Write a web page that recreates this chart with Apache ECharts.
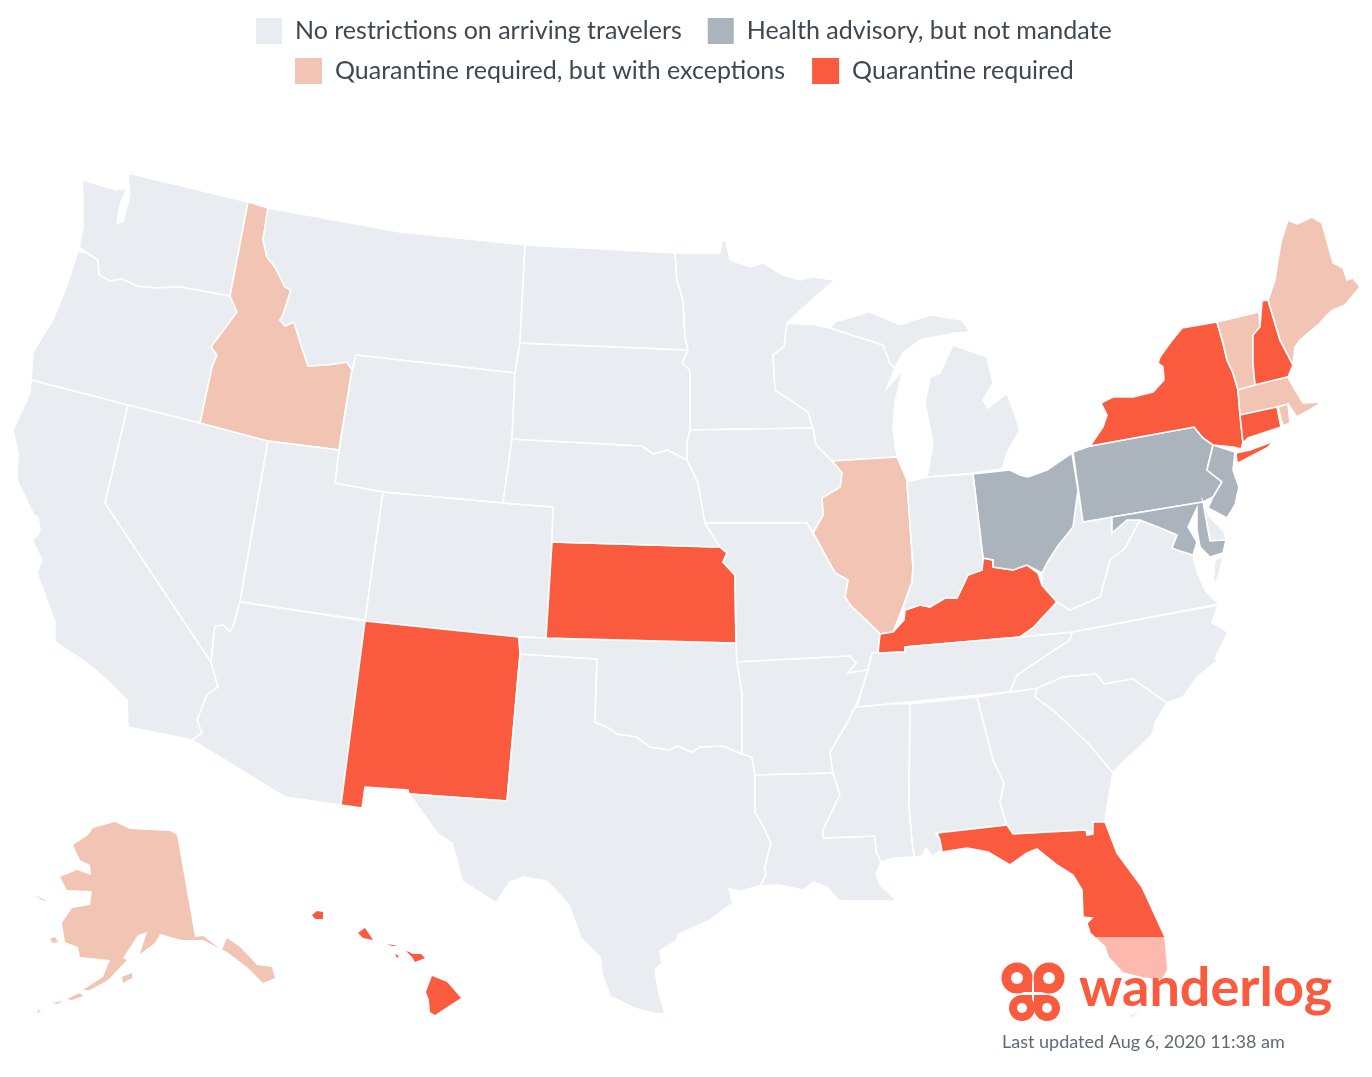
<!DOCTYPE html>
<html>
<head>
<meta charset="utf-8">
<title>Wanderlog travel restrictions</title>
<script src="https://cdn.jsdelivr.net/npm/echarts@6/dist/echarts.min.js"></script>
<style>
  html, body { margin: 0; padding: 0; background: #fff; }
  #main { width: 1372px; height: 1077px; }
</style>
</head>
<body>
<div id="main"></div>
<script>
// categories and who is in them
const categories = [
  "No restrictions on arriving travelers",
  "Health advisory, but not mandate",
  "Quarantine required, but with exceptions",
  "Quarantine required"
];
const categoryColors = ["#e9ecf0", "#abb4bc", "#f2c4b3", "#fa5a3e"];
const noRestrictions = ["Washington", "Oregon", "California", "Nevada", "Utah", "Arizona", "Montana", "Wyoming", "Colorado",
  "North Dakota", "South Dakota", "Nebraska", "Oklahoma", "Texas", "Minnesota", "Iowa", "Missouri", "Arkansas", "Louisiana",
  "Wisconsin", "Michigan", "Indiana", "Tennessee", "Mississippi", "Alabama", "Georgia", "South Carolina", "North Carolina",
  "Virginia", "West Virginia", "Delaware"];
const healthAdvisory = ["Ohio", "Pennsylvania", "New Jersey", "Maryland"];
const quarantineExceptions = ["Idaho", "Illinois", "Alaska", "Maine", "Vermont", "Massachusetts", "Rhode Island"];
const quarantineRequired = ["Kansas", "New Mexico", "Kentucky", "Florida", "New York", "New Hampshire", "Connecticut", "Hawaii"];
// small islands would vanish under the white border
const borderlessStates = ["Alaska", "Hawaii"];

// state outlines, traced in the picture's projection (basemap geometry)
const stateShapes = {
  "Washington": [[[82,180],[100,185],[116,190],[127,188],[120,205],[117,223],[123,222],[130,195],[128,173],[248,202],[230,296],[180,287],[155,288],[137,286],[122,279],[110,281],[99,275],[98,260],[87,253],[79,247],[83,227],[83,193]]],
  "Oregon": [[[78,251],[87,253],[98,260],[99,275],[110,281],[122,279],[137,286],[155,288],[180,287],[230,296],[237,312],[211,347],[217,355],[212,367],[200,423],[128,405],[31,380],[33,352],[53,320],[67,285]]],
  "California": [[[31,380],[128,405],[105,503],[211,662],[218,687],[207,695],[197,720],[202,733],[192,740],[128,727],[127,700],[107,680],[87,663],[55,642],[55,622],[37,573],[42,560],[32,540],[37,536],[40,530],[38,517],[34,515],[17,480],[18,453],[13,430],[30,393]]],
  "Nevada": [[[128,405],[200,423],[268,441],[240,602],[233,627],[230,632],[223,625],[215,626],[211,662],[105,503]]],
  "Idaho": [[[248,202],[268,208],[263,240],[267,257],[275,267],[285,287],[291,290],[283,315],[280,320],[285,326],[294,322],[302,348],[308,366],[327,365],[347,362],[352,370],[339,450],[268,441],[200,423],[212,367],[217,355],[211,347],[237,312],[230,296]]],
  "Montana": [[[268,208],[400,232],[525,245],[520,343],[515,373],[356,355],[352,370],[347,362],[327,365],[308,366],[302,348],[294,322],[285,326],[280,320],[283,315],[291,290],[285,287],[275,267],[267,257],[263,240]]],
  "Wyoming": [[[356,355],[515,373],[512,439],[503,503],[383,492],[335,483],[339,450],[352,370]]],
  "Utah": [[[268,441],[339,450],[335,483],[383,492],[365,620],[240,602]]],
  "Colorado": [[[383,492],[503,503],[553,507],[552,542],[546,638],[519,637],[365,621]]],
  "Arizona": [[[240,602],[365,621],[341,805],[285,797],[192,740],[202,733],[197,720],[207,695],[218,687],[211,662],[215,626],[223,625],[230,632],[233,627]]],
  "New Mexico": [[[365,621],[519,637],[520,654],[507,801],[409,794],[408,790],[365,787],[362,808],[341,805]]],
  "Texas": [[[520,654],[597,659],[595,722],[607,727],[617,734],[637,737],[650,747],[670,750],[677,746],[692,752],[700,747],[723,746],[742,754],[752,757],[755,775],[755,812],[762,824],[771,843],[765,867],[766,875],[760,886],[740,891],[729,889],[733,903],[710,920],[679,934],[676,941],[660,951],[662,963],[655,970],[659,994],[665,1013],[657,1014],[634,1008],[610,996],[602,974],[600,957],[581,938],[569,905],[547,881],[524,877],[510,882],[496,903],[462,881],[457,860],[452,843],[438,834],[409,794],[507,801]]],
  "Oklahoma": [[[519,637],[546,638],[736,643],[737,662],[742,693],[742,754],[723,746],[700,747],[692,752],[677,746],[670,750],[650,747],[637,737],[617,734],[607,727],[595,722],[597,659],[520,654]]],
  "Kansas": [[[552,542],[713,547],[720,547],[727,553],[723,562],[735,575],[736,643],[546,638]]],
  "Nebraska": [[[512,439],[642,446],[653,454],[668,450],[687,460],[698,483],[705,523],[720,547],[552,542],[553,507],[503,503]]],
  "South Dakota": [[[520,343],[688,350],[682,363],[690,370],[690,430],[687,443],[687,460],[668,450],[653,454],[642,446],[512,439],[515,373]]],
  "North Dakota": [[[525,245],[675,253],[677,280],[683,300],[685,337],[688,350],[520,343]]],
  "Minnesota": [[[675,253],[720,253],[722,240],[726,241],[730,260],[750,267],[763,263],[783,275],[800,280],[813,277],[835,280],[817,295],[787,323],[784,347],[773,355],[775,390],[808,412],[813,428],[690,430],[690,370],[682,363],[688,350],[685,337],[683,300],[677,280]]],
  "Wisconsin": [[[787,323],[815,325],[830,328],[883,345],[890,363],[895,368],[887,388],[903,370],[895,403],[893,430],[897,457],[832,461],[816,445],[813,428],[808,412],[775,390],[773,355],[784,347]]],
  "Michigan": [
    [[830,328],[835,322],[868,312],[880,296],[870,312],[900,325],[930,315],[962,320],[970,332],[955,333],[920,340],[903,353],[895,368],[890,363],[883,345]],
    [[953,345],[987,357],[993,383],[983,400],[988,408],[1007,393],[1020,430],[1007,453],[1002,469],[972,473],[927,477],[933,443],[925,403],[930,377],[940,373]]
  ],
  "Illinois": [[[832,461],[897,457],[907,480],[913,567],[912,582],[903,607],[893,632],[880,634],[868,622],[850,605],[845,597],[848,580],[835,573],[813,533],[823,515],[822,498],[840,487],[842,473]]],
  "Iowa": [[[690,430],[813,428],[816,445],[832,461],[842,473],[840,487],[822,498],[823,515],[813,533],[807,523],[705,523],[698,483],[687,460],[687,443]]],
  "Missouri": [[[705,523],[807,523],[813,533],[835,573],[848,580],[845,597],[850,605],[868,622],[880,634],[878,653],[872,653],[868,670],[848,673],[856,663],[850,656],[737,662],[736,643],[735,575],[723,562],[727,553],[720,547]]],
  "Arkansas": [[[737,662],[850,656],[856,663],[848,673],[868,670],[857,703],[845,727],[830,752],[833,773],[755,775],[752,757],[742,754],[742,693]]],
  "Louisiana": [[[755,775],[833,773],[840,795],[823,830],[823,838],[875,836],[876,851],[881,862],[876,874],[881,886],[897,901],[866,901],[848,901],[838,900],[828,888],[814,882],[803,890],[779,885],[760,886],[766,875],[765,867],[771,843],[762,824],[755,812]]],
  "Mississippi": [[[857,703],[910,704],[909,807],[913,850],[915,857],[893,858],[881,862],[876,851],[875,836],[823,838],[823,830],[840,795],[833,773],[830,752],[845,727]]],
  "Alabama": [[[910,704],[977,697],[993,760],[1004,783],[1000,803],[1007,825],[936,833],[940,842],[942,850],[932,857],[926,848],[922,856],[915,857],[913,850],[909,807]]],
  "Georgia": [[[977,697],[1037,688],[1035,697],[1053,710],[1090,745],[1113,773],[1107,807],[1105,822],[1093,822],[1093,834],[1086,830],[1013,834],[1007,825],[1000,803],[1004,783],[993,760]]],
  "Florida": [
    [[937,833],[1007,825],[1013,834],[1086,830],[1087,835],[1093,834],[1093,822],[1105,822],[1117,853],[1142,887],[1165,937],[1168,970],[1162,980],[1143,978],[1123,973],[1108,957],[1105,947],[1090,933],[1087,923],[1092,918],[1083,917],[1082,890],[1073,875],[1057,865],[1037,849],[1027,853],[1010,865],[988,852],[967,848],[942,852],[940,840]],
    [[1128,1017],[1138,1011],[1140,1012],[1131,1018]]
  ],
  "Kentucky": [[[880,634],[893,632],[904,620],[905,610],[920,605],[930,607],[945,598],[957,598],[968,575],[982,570],[983,558],[993,560],[993,567],[1013,570],[1027,565],[1038,573],[1042,585],[1057,602],[1033,628],[1020,637],[905,647],[905,652],[878,653]]],
  "Tennessee": [[[872,653],[878,653],[905,652],[905,647],[1020,637],[1072,632],[1070,640],[1050,653],[1017,675],[1010,692],[857,707],[868,670]]],
  "North Carolina": [[[1072,632],[1218,605],[1212,623],[1228,632],[1222,645],[1215,658],[1218,660],[1197,677],[1183,697],[1167,703],[1133,679],[1104,684],[1096,674],[1063,677],[1040,688],[1010,692],[1017,675],[1050,653],[1070,640]]],
  "South Carolina": [[[1037,688],[1063,677],[1096,674],[1104,684],[1133,679],[1167,703],[1155,723],[1152,735],[1123,762],[1113,773],[1090,745],[1053,710],[1035,697]]],
  "Virginia": [
    [[1020,637],[1033,628],[1057,602],[1070,610],[1100,597],[1110,560],[1125,548],[1140,520],[1158,527],[1177,535],[1172,548],[1193,555],[1197,572],[1205,590],[1219,604],[1072,632]],
    [[1213,581],[1215,560],[1223,556],[1222,562],[1217,581]]
  ],
  "West Virginia": [[[1042,573],[1047,563],[1057,547],[1073,527],[1078,490],[1083,522],[1112,517],[1112,533],[1127,520],[1140,520],[1125,548],[1110,560],[1100,597],[1070,610],[1057,602],[1042,585]]],
  "Ohio": [[[973,474],[1010,470],[1020,475],[1028,477],[1047,470],[1072,453],[1078,490],[1073,527],[1057,547],[1047,563],[1042,573],[1027,565],[1013,570],[993,567],[993,560],[983,558]]],
  "Indiana": [[[907,482],[927,477],[973,474],[983,558],[982,570],[968,575],[957,598],[945,598],[930,607],[920,605],[905,610],[903,607],[912,582],[913,567]]],
  "Pennsylvania": [[[1073,452],[1090,446],[1194,427],[1203,438],[1213,445],[1207,470],[1222,482],[1213,497],[1203,502],[1112,517],[1083,522]]],
  "New Jersey": [[[1213,445],[1235,452],[1233,470],[1239,487],[1235,505],[1227,518],[1208,508],[1213,497],[1222,482],[1207,470]]],
  "Delaware": [[[1203,502],[1210,517],[1225,533],[1226,540],[1210,541]]],
  "Maryland": [[[1112,517],[1203,502],[1210,541],[1226,540],[1223,553],[1210,557],[1200,547],[1197,530],[1197,508],[1188,527],[1197,542],[1193,555],[1177,550],[1172,548],[1177,535],[1158,527],[1140,520],[1127,520],[1112,533]]],
  "New York": [
    [[1090,446],[1103,427],[1107,415],[1101,403],[1113,397],[1133,397],[1153,392],[1164,380],[1163,367],[1158,363],[1160,357],[1170,343],[1182,328],[1217,322],[1223,343],[1227,360],[1233,373],[1238,390],[1240,415],[1243,443],[1241,449],[1233,447],[1213,445],[1203,438],[1194,427]],
    [[1236,453],[1250,450],[1274,441],[1267,448],[1240,462],[1237,463]]
  ],
  "Vermont": [[[1217,322],[1259,312],[1260,327],[1253,335],[1253,363],[1255,385],[1238,390],[1233,373],[1227,360],[1223,343]]],
  "New Hampshire": [[[1262,301],[1268,300],[1280,340],[1293,365],[1288,377],[1255,385],[1253,363],[1253,335],[1260,327]]],
  "Maine": [[[1268,300],[1275,280],[1278,260],[1281,242],[1288,220],[1297,224],[1312,217],[1322,223],[1333,263],[1343,268],[1347,280],[1353,278],[1360,287],[1345,305],[1333,310],[1327,315],[1320,323],[1300,340],[1295,347],[1293,365],[1280,340]]],
  "Massachusetts": [[[1238,390],[1255,385],[1288,377],[1294,388],[1303,403],[1322,402],[1313,408],[1297,417],[1288,404],[1278,407],[1240,415]]],
  "Connecticut": [[[1240,415],[1277,407],[1281,427],[1248,438],[1243,443]]],
  "Rhode Island": [[[1278,407],[1288,404],[1290,423],[1283,426]]],
  "Hawaii": [
    [[312,915],[317,911],[323,912],[323,919],[315,919]],
    [[358,933],[365,928],[373,940],[363,938]],
    [[387,944],[398,946],[392,946]],
    [[395,954],[399,956],[397,958]],
    [[406,951],[409,952],[413,954],[421,954],[425,958],[415,962],[412,957]],
    [[432,976],[447,982],[461,998],[447,1007],[435,1015],[430,1012],[429,1000],[426,992]]
  ],
  "Alaska": [
    [[73,845],[88,835],[93,828],[115,822],[130,829],[147,830],[170,831],[177,835],[195,937],[203,936],[222,950],[227,938],[240,947],[257,965],[272,967],[275,978],[263,983],[247,967],[227,952],[203,940],[182,940],[160,934],[155,943],[140,954],[147,932],[138,935],[123,958],[127,960],[108,980],[90,990],[83,990],[103,977],[110,960],[80,957],[78,947],[65,942],[62,923],[72,908],[90,905],[92,891],[67,890],[60,877],[77,870],[91,875],[90,865],[80,860]],
    [[50,939],[55,937],[58,942],[53,943]],
    [[35,895],[47,901],[42,900]],
    [[122,977],[132,973],[132,978],[123,983]],
    [[53,1003],[62,1001],[58,1004]],
    [[67,999],[80,993],[83,996],[72,1000]],
    [[37,1011],[41,1010],[38,1013]]
  ]
};

const usGeoJson = {
  type: "FeatureCollection",
  features: Object.keys(stateShapes).map(name => ({
    type: "Feature",
    properties: { name: name },
    geometry: {
      type: "MultiPolygon",
      coordinates: stateShapes[name].map(ring => [ring.concat([ring[0]])])
    }
  }))
};
echarts.registerMap("usStates", usGeoJson);

const groups = [noRestrictions, healthAdvisory, quarantineExceptions, quarantineRequired];
const regions = [];
groups.forEach((names, i) => {
  names.forEach(name => {
    regions.push({
      name: name,
      itemStyle: {
        areaColor: categoryColors[i],
        borderWidth: borderlessStates.includes(name) ? 0 : 1.6
      }
    });
  });
});

const legendText = { fontFamily: "Lato", fontSize: 25, color: "#3f4852", padding: [4, 0, 0, 8] };
const logoColor = categoryColors[3];

let mychart = echarts.init(document.getElementById("main"), null, { renderer: "canvas" });
let option = {
  animation: false,
  backgroundColor: "#fff",
  legend: [
    {
      data: categories.slice(0, 2),
      left: 256, top: 18, padding: 0,
      icon: "rect",
      itemWidth: 26, itemHeight: 26, itemGap: 26,
      selectedMode: false,
      textStyle: legendText
    },
    {
      data: categories.slice(2),
      left: 295, top: 58, padding: 0,
      icon: "rect",
      itemWidth: 27, itemHeight: 26, itemGap: 27,
      selectedMode: false,
      textStyle: legendText
    }
  ],
  geo: {
    map: "usStates",
    silent: true,
    roam: false,
    left: 0, top: 0, width: 1372, height: 1077,
    boundingCoords: [[0, 0], [1372, 1077]],
    projection: { project: p => p, unproject: p => p },
    label: { show: false },
    itemStyle: { areaColor: categoryColors[0], borderColor: "#fff", borderWidth: 1.6 },
    regions: regions
  },
  // empty series: they only give the legend its four entries
  series: categories.map((name, i) => ({
    name: name,
    type: "scatter",
    coordinateSystem: "geo",
    itemStyle: { color: categoryColors[i], opacity: 1 },
    data: []
  })),
  graphic: [
    // the logo box veils south Florida
    { type: "rect", z: 50, shape: { x: 1000, y: 937, width: 372, height: 140 }, style: { fill: "rgba(255,255,255,0.58)" } },
    { type: "circle", z: 60, shape: { cx: 1017, cy: 978, r: 15.5 }, style: { fill: logoColor } },
    { type: "rect", z: 60, shape: { x: 1017, y: 978, width: 15, height: 14 }, style: { fill: logoColor } },
    { type: "circle", z: 61, shape: { cx: 1017, cy: 978, r: 6 }, style: { fill: "#fff" } },
    { type: "circle", z: 60, shape: { cx: 1049, cy: 978, r: 15.5 }, style: { fill: logoColor } },
    { type: "rect", z: 60, shape: { x: 1034, y: 978, width: 15, height: 14 }, style: { fill: logoColor } },
    { type: "circle", z: 61, shape: { cx: 1049, cy: 978, r: 6 }, style: { fill: "#fff" } },
    { type: "circle", z: 60, shape: { cx: 1022, cy: 1008, r: 13 }, style: { fill: logoColor } },
    { type: "rect", z: 60, shape: { x: 1022, y: 995, width: 10, height: 13 }, style: { fill: logoColor } },
    { type: "circle", z: 61, shape: { cx: 1022, cy: 1008, r: 5 }, style: { fill: "#fff" } },
    { type: "circle", z: 60, shape: { cx: 1047, cy: 1008, r: 13 }, style: { fill: logoColor } },
    { type: "rect", z: 60, shape: { x: 1034, y: 995, width: 13, height: 13 }, style: { fill: logoColor } },
    { type: "circle", z: 61, shape: { cx: 1047, cy: 1008, r: 5 }, style: { fill: "#fff" } },
    { type: "text", z: 60, x: 1079, y: 962, style: { text: "wanderlog", fill: logoColor, font: "bold 54px Lato" } },
    { type: "text", z: 60, x: 1002, y: 1033, style: { text: "Last updated Aug 6, 2020 11:38 am", fill: "#5f6a75", font: "18px Lato" } }
  ]
};
mychart.setOption(option);
</script>
</body>
</html>
